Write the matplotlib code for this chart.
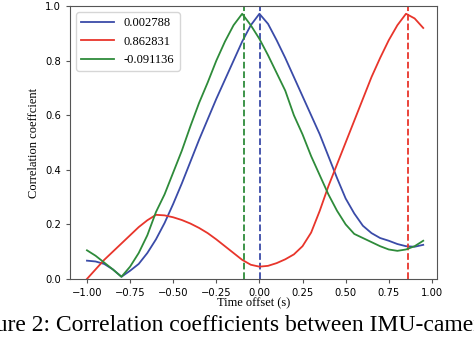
import numpy as np
import matplotlib.pyplot as plt

# time offsets (s)
offsets = np.round(np.arange(-1.0, 0.951, 0.05), 2)

corr_blue = [0.067, 0.064, 0.055, 0.035, 0.008, 0.030, 0.055, 0.095, 0.145, 0.205,
             0.275, 0.350, 0.430, 0.510, 0.585, 0.660, 0.730, 0.800, 0.870, 0.930,
             0.972, 0.935, 0.875, 0.810, 0.740, 0.670, 0.600, 0.530, 0.450, 0.370,
             0.295, 0.240, 0.195, 0.168, 0.150, 0.140, 0.128, 0.120, 0.118, 0.125]
corr_red = [0.000, 0.035, 0.070, 0.100, 0.130, 0.160, 0.190, 0.215, 0.235, 0.233,
            0.226, 0.216, 0.203, 0.187, 0.168, 0.145, 0.120, 0.095, 0.070, 0.052,
            0.045, 0.048, 0.058, 0.072, 0.090, 0.120, 0.170, 0.250, 0.340, 0.420,
            0.500, 0.580, 0.660, 0.740, 0.810, 0.875, 0.930, 0.972, 0.955, 0.920]
corr_green = [0.105, 0.085, 0.060, 0.035, 0.008, 0.045, 0.095, 0.160, 0.245, 0.310,
              0.390, 0.470, 0.560, 0.645, 0.720, 0.800, 0.870, 0.930, 0.972, 0.930,
              0.880, 0.820, 0.755, 0.690, 0.600, 0.530, 0.450, 0.380, 0.310, 0.250,
              0.200, 0.165, 0.150, 0.135, 0.120, 0.108, 0.103, 0.108, 0.120, 0.140]

peak_offsets = [0.002788, 0.862831, -0.091136]
labels = ['0.002788', '0.862831', '-0.091136']
colors = ['#3A4BA8', '#E8352B', '#2E8B3A']

serif = ['Liberation Serif', 'DejaVu Serif']

fig = plt.figure(figsize=(4.74, 3.41), dpi=100)
ax = fig.add_axes([0.148, 0.182, 0.774, 0.800])

for series, peak, label, color in zip([corr_blue, corr_red, corr_green], peak_offsets, labels, colors):
    ax.plot(offsets, series, color=color, linewidth=1.3, label=label)
    ax.axvline(peak, color=color, linestyle='--', linewidth=1.3)

ax.set_xlim(-1.0975, 1.03)
ax.set_ylim(0, 1.0)
ax.set_xticks([-1.0, -0.75, -0.5, -0.25, 0.0, 0.25, 0.5, 0.75, 1.0])
ax.set_yticks([0.0, 0.2, 0.4, 0.6, 0.8, 1.0])
ax.tick_params(labelsize=7.2, length=3, color='#555555')
for spine in ax.spines.values():
    spine.set_color('#555555')

ax.set_xlabel('Time offset (s)', family=serif, fontsize=9, labelpad=-0.5)
ax.set_ylabel('Correlation coeffcient', family=serif, fontsize=9, labelpad=4)
ax.legend(loc='upper left', prop={'family': serif, 'size': 9}, handlelength=2.6,
          borderaxespad=0.5)

# figure caption, cut off at both edges as in the scanned page
fig.text(-0.075, 0.045, 'Figure 2: Correlation coefficients between IMU-camera time offsets',
         family=serif, fontsize=17, ha='left', va='center')

fig.savefig('out.png', dpi=100)
